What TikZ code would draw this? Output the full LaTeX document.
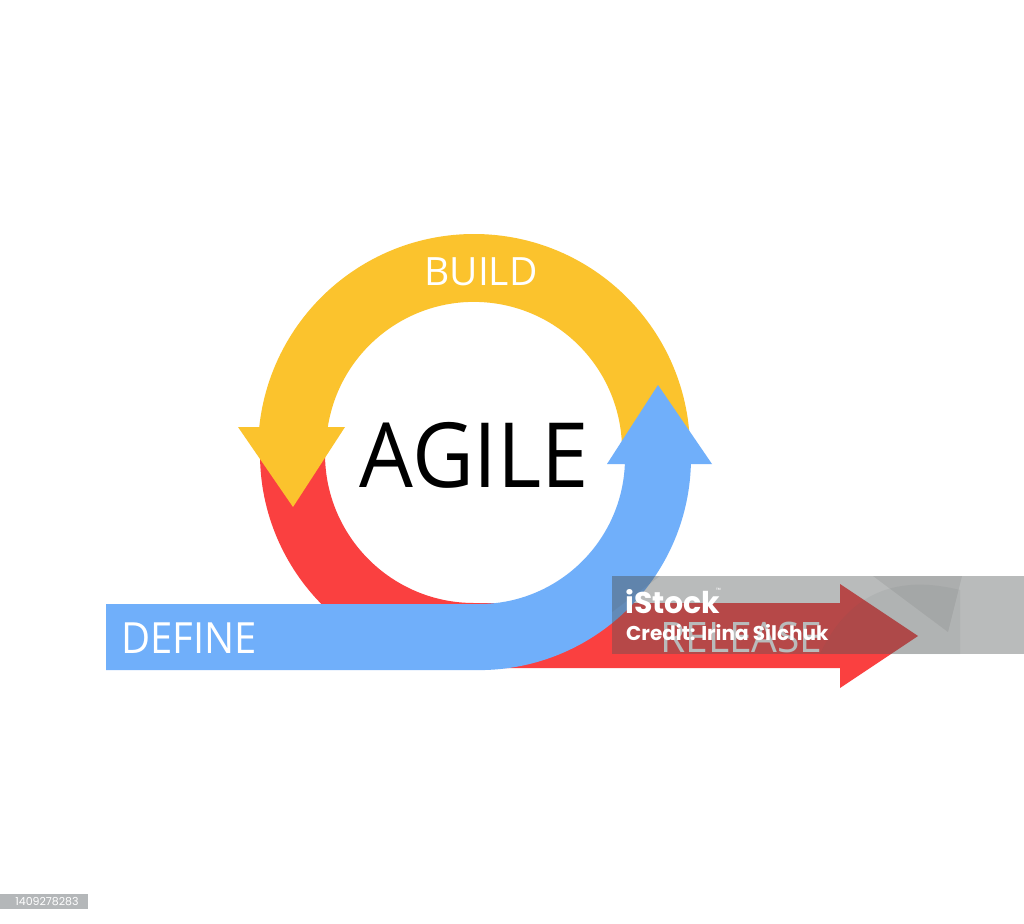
\documentclass[tikz,border=0pt]{standalone}
\usepackage{fontspec}
\setmainfont{Open Sans}
\newfontfamily\wmfont{Poppins}
\definecolor{ayellow}{RGB}{251,195,45}
\definecolor{ared}{RGB}{250,64,64}
\definecolor{ablue}{RGB}{112,175,250}
\definecolor{wmgray}{RGB}{80,86,86}
\definecolor{idgray}{RGB}{180,183,185}
\tikzset{
  label/.style={text=white, inner sep=0pt},
  wmtext/.style={text=white, inner sep=0pt, anchor=base west},
}
\begin{document}
\begin{tikzpicture}[x=1pt,y=-1pt]
\fill[white] (0,0) rectangle (1024,923);
\useasboundingbox (0,0) rectangle (1024,923);
% red: release
\fill[ared] (260,454) arc[start angle=180,end angle=90,radius=214] -- (840,668) -- (840,688) -- (918,636) -- (840,584) -- (840,603) -- (474,603) arc[start angle=90,end angle=180,radius=149] -- cycle;
% yellow: build
\fill[ayellow] (690,450) arc[start angle=0,end angle=-173.9,radius=216] -- (238,427) -- (293,507) -- (345,427) -- (327.8,427) arc[start angle=-171.1,end angle=0,radius=148] -- cycle;
% blue: define
\fill[ablue] (106,604) -- (479,604) arc[start angle=90,end angle=2.4,radius=146] -- (607,464) -- (658,385) -- (712,464) -- (690.9,464) arc[start angle=1.6,end angle=90,radius=212] -- (106,670) -- cycle;
% texts
\node[label, anchor=base, font=\fontsize{39}{39}\selectfont] (build) at (481,285) {BUILD};
\node[inner sep=0pt, anchor=base, text=black, font=\fontsize{90}{90}\selectfont] (agile) at (474.5,487) {\scalebox{0.945}[1]{AGILE}};
\node[label, anchor=base west, font=\fontsize{43}{43}\selectfont] (define) at (121,653) {\scalebox{0.93}[1]{DEFINE}};
\node[label, anchor=base west, font=\fontsize{42}{42}\selectfont] (release) at (660,652) {\scalebox{0.97}[1]{RELEASE}};
% watermark band
\fill[wmgray, opacity=0.4] (612,576) rectangle (1024,654);
\fill[wmgray, opacity=0.12] (873,576) -- (962,576) -- (948,632) -- cycle;
\fill[wmgray, opacity=0.12] (612,576) -- (660,576) -- (612,612) -- cycle;
\fill[wmgray, opacity=0.08] (820,654) .. controls (850,590) and (900,575) .. (960,590) -- (960,654) -- cycle;
\node[wmtext, font=\wmfont\bfseries\fontsize{30}{30}\selectfont] (istock) at (625,613) {iStock};
\node[wmtext, font=\wmfont\fontsize{6}{6}\selectfont] (tm) at (716,592) {™};
\node[wmtext, font=\wmfont\bfseries\fontsize{20}{20}\selectfont] (credit) at (626,640) {Credit: Irina Silchuk};
% id tag
\fill[idgray] (0,894) rectangle (88,909);
\node[text=white, inner sep=0pt, font=\wmfont\fontsize{11}{11}\selectfont] (id) at (47,901.5) {1409278283};
\end{tikzpicture}
\end{document}
